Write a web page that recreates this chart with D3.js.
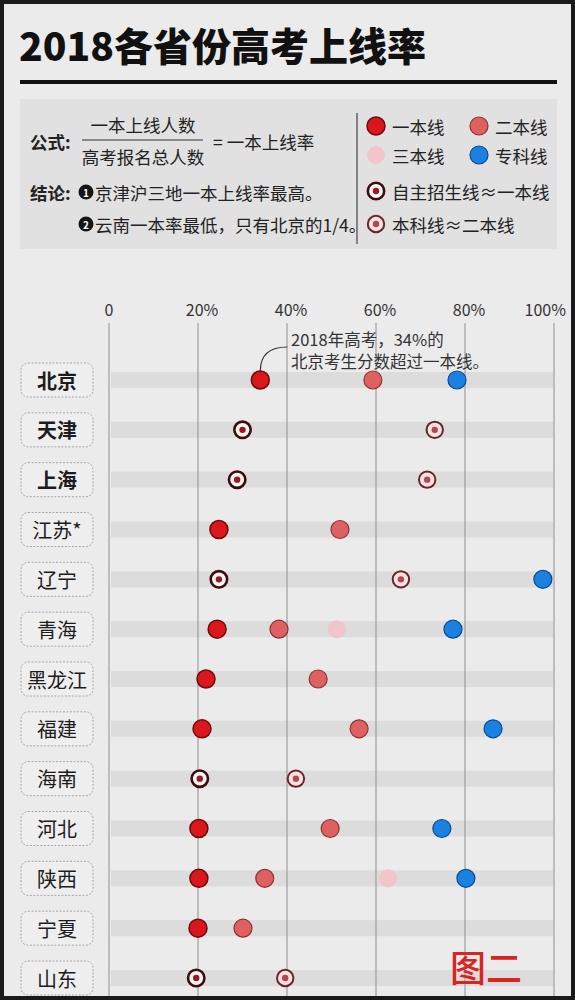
<!DOCTYPE html>
<html><head><meta charset="utf-8">
<script src="https://cdn.jsdelivr.net/npm/d3@7"></script>
<style>
html,body{margin:0;padding:0;background:#ebebeb;}
svg{display:block;font-family:"Noto Sans CJK SC","Noto Sans",sans-serif;}
</style></head>
<body>
<svg id="c" width="575" height="1000"></svg>
<script>
const provinces = ["北京","天津","上海","江苏*","辽宁","青海","黑龙江","福建","海南","河北","陕西","宁夏","山东"];
const boldRows = ["北京","天津","上海"];
// 一本线 (or 自主招生线 when merged)
const yiben = [34, 30, 28.8, 24.7, 24.7, 24.3, 21.8, 20.9, 20.4, 20.2, 20.2, 20.0, 19.6];
// 二本线 (or 本科线 when merged)
const erben = [59.3, 73.2, 71.5, 51.9, 65.6, 38.2, 47.0, 56.2, 42.0, 49.7, 35.0, 30.1, 39.6];
const sanben = [null, null, null, null, null, 51.2, null, null, null, null, 62.7, null, null];
const zhuanke = [78.2, null, null, null, 97.5, 77.3, null, 86.3, null, 74.8, 80.2, null, null];
// rows where 自主招生线≈一本线 and 本科线≈二本线
const merged = ["天津","上海","辽宁","海南","山东"];
const ticks = [0, 20, 40, 60, 80, 100];
const tickLabels = ["0","20%","40%","60%","80%","100%"];

const svg = d3.select("#c");
const W = 575, H = 1000;
const x = d3.scaleLinear().domain([0,100]).range([109, 554]);
const y = d3.scalePoint().domain(provinces).range([380, 978]);

// background & frame
svg.append("rect").attr("x",0).attr("y",0).attr("width",W).attr("height",H).attr("fill","#ebebeb");
svg.append("rect").attr("x",2).attr("y",2).attr("width",W-4).attr("height",H-4)
  .attr("fill","none").attr("stroke","#1a1a1a").attr("stroke-width",4);

// title
svg.append("text").attr("x",19).attr("y",61).text("2018各省份高考上线率")
  .attr("font-size",39).attr("font-weight",900).attr("fill","#111");
svg.append("rect").attr("x",20).attr("y",80).attr("width",537).attr("height",4).attr("fill","#111");

// info box
svg.append("rect").attr("x",20).attr("y",99).attr("width",537).attr("height",150).attr("fill","#e1e1e1");
const t = (xx,yy,s,opt={})=>svg.append("text").attr("x",xx).attr("y",yy).text(s)
  .attr("font-size",opt.size||17.5).attr("font-weight",opt.weight||400)
  .attr("fill",opt.fill||"#222").attr("text-anchor",opt.anchor||"start").attr("dominant-baseline","central");
t(30,141,"公式:",{weight:700});
t(143,124,"一本上线人数",{anchor:"middle"});
svg.append("line").attr("x1",82).attr("x2",203).attr("y1",140).attr("y2",140).attr("stroke","#333").attr("stroke-width",1.2);
t(143,156,"高考报名总人数",{anchor:"middle"});
t(213,141,"= 一本上线率");
t(30,192,"结论:",{weight:700});
[[192,"1","京津沪三地一本上线率最高。"],[224,"2","云南一本率最低，只有北京的1/4。"]].forEach(([yy,n,s])=>{
  svg.append("circle").attr("cx",86).attr("cy",yy).attr("r",7.5).attr("fill","#151515");
  t(86,yy,n,{size:10,anchor:"middle",fill:"#fff",weight:700});
  t(95,yy,s);
});
svg.append("line").attr("x1",357).attr("x2",357).attr("y1",113).attr("y2",244).attr("stroke","#444").attr("stroke-width",1.2);

// symbol drawers
function dot(g, cx, cy, kind){
  const st = {
    yi:{fill:"#d9171c",stroke:"#6e0b0b",sw:1.5},
    er:{fill:"#df6060",stroke:"#8c3434",sw:1.2},
    san:{fill:"#f1c5c9",stroke:"none",sw:0},
    zk:{fill:"#1a80e2",stroke:"#0c4a8f",sw:1.2}
  }[kind];
  g.append("circle").attr("cx",cx).attr("cy",cy).attr("r",9)
    .attr("fill",st.fill).attr("stroke",st.stroke).attr("stroke-width",st.sw);
}
function ring(g, cx, cy, kind){
  if(kind==="zz"){
    g.append("circle").attr("cx",cx).attr("cy",cy).attr("r",8.2).attr("fill","#fbf4f4").attr("stroke","#3d0d0d").attr("stroke-width",2.6);
    g.append("circle").attr("cx",cx).attr("cy",cy).attr("r",3.2).attr("fill","#9a1820");
  } else {
    g.append("circle").attr("cx",cx).attr("cy",cy).attr("r",8.2).attr("fill","#f7e3e3").attr("stroke","#6d2323").attr("stroke-width",2);
    g.append("circle").attr("cx",cx).attr("cy",cy).attr("r",3.2).attr("fill","#b5464f");
  }
}

// legend
const lg = svg.append("g");
dot(lg,376,126,"yi"); t(392,126,"一本线");
dot(lg,479,126,"er"); t(495,126,"二本线");
dot(lg,376,155,"san"); t(392,155,"三本线");
dot(lg,479,155,"zk"); t(495,155,"专科线");
ring(lg,376,191,"zz"); t(392,191,"自主招生线≈一本线");
ring(lg,376,224,"bk"); t(392,224,"本科线≈二本线");

// axis labels
const ax = svg.append("g").attr("transform","translate(0,309)");
ax.selectAll("text").data(ticks).join("text")
  .attr("x",d=>x(d)).attr("y",0).text((d,i)=>tickLabels[i])
  .attr("text-anchor",(d,i)=>i===ticks.length-1?"end":"middle")
  .attr("dx",(d,i)=>i===ticks.length-1?12:(i===0?0:4))
  .attr("dominant-baseline","central").attr("font-size",16).attr("fill","#333");

// row bands
svg.append("g").selectAll("rect").data(provinces).join("rect")
  .attr("x",x(0)+2).attr("width",x(100)-x(0)-3).attr("y",d=>y(d)-8).attr("height",16)
  .attr("fill","#dcdcdc");

// gridlines
svg.append("g").selectAll("line").data(ticks).join("line")
  .attr("x1",d=>x(d)).attr("x2",d=>x(d)).attr("y1",323).attr("y2",996)
  .attr("stroke","#8f8f8f").attr("stroke-width",1);

// row labels
const rl = svg.append("g").selectAll("g").data(provinces).join("g")
  .attr("transform",d=>`translate(57,${y(d)})`);
rl.append("rect").attr("x",-36).attr("y",-17).attr("width",72).attr("height",34).attr("rx",7)
  .attr("fill","#eeeeee").attr("stroke","#a8a8a8").attr("stroke-width",1).attr("stroke-dasharray","2,1.5");
rl.append("text").text(d=>d).attr("text-anchor","middle").attr("dominant-baseline","central")
  .attr("font-size",20).attr("font-weight",d=>boldRows.includes(d)?700:400).attr("fill","#1c1c1c");

// annotation
svg.append("path").attr("d",`M${x(yiben[0])},${y("北京")-9} Q${x(yiben[0])},347 ${x(yiben[0])+27},347`)
  .attr("fill","none").attr("stroke","#333").attr("stroke-width",1.2);
t(291,339,"2018年高考，34%的",{size:16.5,fill:"#333"});
t(291,361,"北京考生分数超过一本线。",{size:16.5,fill:"#333"});

// marks
const mg = svg.append("g");
provinces.forEach((p,i)=>{
  const cy = y(p), m = merged.includes(p);
  if(sanben[i]!=null) dot(mg,x(sanben[i]),cy,"san");
  if(m){ ring(mg,x(erben[i]),cy,"bk"); ring(mg,x(yiben[i]),cy,"zz"); }
  else { dot(mg,x(erben[i]),cy,"er"); dot(mg,x(yiben[i]),cy,"yi"); }
  if(zhuanke[i]!=null) dot(mg,x(zhuanke[i]),cy,"zk");
});

// 图二
t(486,966,"图二",{size:36,anchor:"middle",fill:"#d92424",weight:500});
</script>
</body></html>
